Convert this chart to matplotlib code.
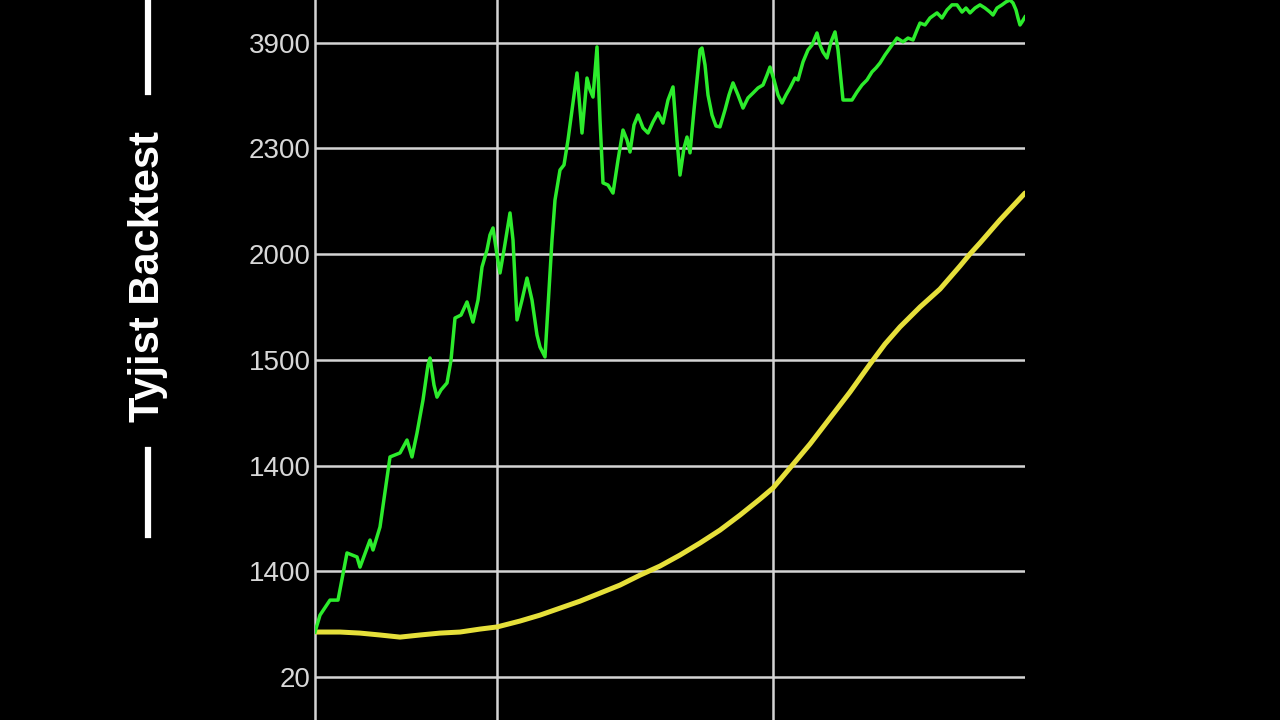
import matplotlib
matplotlib.use("Agg")
import matplotlib.pyplot as plt
from matplotlib.lines import Line2D

# ---- data ----
strategy_days = [0, 5, 15, 23, 32, 42, 45, 55, 58, 65, 75, 85, 92, 97, 102, 108, 113, 115, 119, 122,
                 126, 132, 136, 140, 146, 152, 158, 163, 167, 172, 175, 178, 182, 185, 189, 195, 198, 202, 207, 212,
                 217, 222, 225, 230, 234, 237, 240, 245, 249, 253, 257, 262, 267, 272, 275, 278, 282, 285, 288, 293,
                 298, 303, 308, 312, 315, 319, 323, 328, 333, 338, 343, 348, 353, 358, 362, 365, 369, 372, 375, 379,
                 382, 385, 387, 390, 393, 397, 401, 405, 410, 414, 418, 423, 428, 433, 438, 443, 448, 452, 455, 459,
                 463, 467, 471, 475, 480, 483, 488, 493, 497, 502, 505, 508, 512, 516, 520, 523, 526, 528, 533, 537,
                 542, 547, 552, 557, 561, 565, 570, 575, 582, 588, 593, 598, 602, 605, 610, 615, 622, 627, 632, 637,
                 642, 647, 651, 655, 660, 665, 670, 675, 678, 682, 687, 691, 695, 698, 701, 703, 705, 707, 710]
strategy_values = [213, 293, 364, 364, 587, 568, 520, 648, 601, 710, 1041, 1060, 1121, 1041, 1154, 1310, 1476, 1509, 1381, 1324,
                   1358, 1391, 1499, 1698, 1712, 1774, 1679, 1783, 1939, 2020, 2091, 2124, 1996, 1911, 2020, 2195, 2067, 1689, 1783, 1887,
                   1783, 1618, 1561, 1514, 1831, 2067, 2256, 2398, 2422, 2540, 2682, 2857, 2573, 2833, 2777, 2743, 2980, 2635, 2337, 2327,
                   2289, 2445, 2587, 2540, 2483, 2611, 2658, 2597, 2573, 2625, 2668, 2620, 2729, 2791, 2540, 2374, 2502, 2554, 2479, 2682,
                   2824, 2966, 2975, 2895, 2753, 2658, 2606, 2602, 2682, 2753, 2810, 2753, 2691, 2739, 2762, 2786, 2800, 2847, 2885, 2824,
                   2753, 2715, 2753, 2786, 2833, 2824, 2909, 2966, 2989, 3046, 2989, 2956, 2928, 3004, 3051, 2966, 2824, 2729, 2729, 2729,
                   2767, 2800, 2824, 2862, 2881, 2904, 2942, 2975, 3022, 3004, 3022, 3013, 3060, 3093, 3084, 3117, 3141, 3117, 3155, 3179,
                   3179, 3145, 3164, 3141, 3164, 3179, 3164, 3145, 3131, 3164, 3179, 3193, 3202, 3188, 3155, 3117, 3084, 3098, 3122]

benchmark_days = [0, 25, 45, 65, 85, 105, 125, 145, 165, 182, 205, 225, 245, 265, 285, 305, 325, 345, 365, 385,
                  405, 425, 445, 458, 475, 495, 515, 535, 555, 570, 585, 605, 625, 645, 655, 665, 685, 710]
benchmark_values = [213, 213, 208, 199, 189, 199, 208, 213, 227, 237, 265, 293, 326, 359, 397, 435, 482, 525, 577, 634,
                    695, 766, 842, 894, 989, 1102, 1225, 1348, 1480, 1575, 1656, 1750, 1835, 1944, 2001, 2053, 2162, 2289]

y_ticks = [0, 500, 1000, 1500, 2000, 2500, 3000]
y_tick_labels = ["20", "1400", "1400", "1500", "2000", "2300", "3900"]
x_grid = [182, 458]
y_title = "Tyjist Backtest"

# ---- figure ----
fig = plt.figure(figsize=(12.8, 7.2), dpi=100, facecolor="black")
ax = fig.add_axes([315 / 1280, 0.0, 710 / 1280, 1.0], facecolor="black")

ax.plot(benchmark_days, benchmark_values, color="#e6e03a", lw=3.6, solid_capstyle="round", zorder=3)
ax.plot(strategy_days, strategy_values, color="#2cec2c", lw=2.5, solid_joinstyle="round", zorder=4)

ax.set_xlim(0, 710)
ax.set_ylim(-203, 3202)
ax.set_yticks(y_ticks)
ax.set_yticklabels(y_tick_labels, fontsize=20, color="#d8d8d8", family="Liberation Sans")
ax.set_xticks(x_grid)
ax.set_xticklabels([])
ax.tick_params(axis="both", length=0, pad=3)
ax.grid(True, color="#d4d4d4", lw=1.8, zorder=1)
for side in ["top", "right", "bottom"]:
    ax.spines[side].set_visible(False)
ax.spines["left"].set_color("#d4d4d4")
ax.spines["left"].set_linewidth(1.8)

fig.text(148 / 1280, 1 - 277 / 720, y_title, rotation=90, ha="center", va="center",
         color="white", fontsize=30, fontweight="bold", family="Liberation Sans")
fig.add_artist(Line2D([148 / 1280, 148 / 1280], [1.0, 1 - 92 / 720], color="white", lw=4.5,
                      transform=fig.transFigure))
fig.add_artist(Line2D([148 / 1280, 148 / 1280], [1 - 450 / 720, 1 - 535 / 720], color="white", lw=4.5,
                      transform=fig.transFigure))

fig.savefig("out.png", dpi=100, facecolor="black")
